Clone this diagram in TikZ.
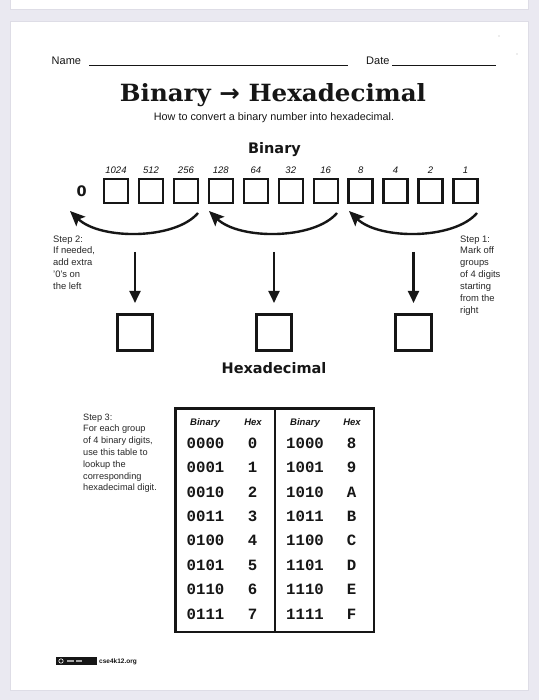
\documentclass[tikz,border=0pt]{standalone}
\usepackage{fontspec}
\setmainfont{Liberation Sans}
\setmonofont{Liberation Mono}
\newfontfamily\titlefont{DejaVu Serif}
\newfontfamily\headfont{DejaVu Sans}
\usetikzlibrary{arrows.meta}
\definecolor{bggray}{RGB}{234,233,241}
\definecolor{cardedge}{RGB}{222,221,230}
\definecolor{ink}{RGB}{22,22,22}
\definecolor{steptxt}{RGB}{40,40,40}
\begin{document}
\begin{tikzpicture}[x=1pt,y=-1pt,
  bitbox/.style={draw=ink, line width=2.4pt, minimum size=24pt, inner sep=0pt},
  hexbox/.style={draw=ink, line width=2.6pt, minimum width=35.5pt, minimum height=36.5pt, inner sep=0pt},
  weight/.style={font=\fontsize{9.5}{11}\selectfont\itshape, anchor=base, inner sep=0pt, text=ink},
  steptext/.style={font=\fontsize{9.4}{11.9}\selectfont, align=left, anchor=base west, inner sep=0pt, text=steptxt},
  head/.style={font=\headfont\bfseries\fontsize{14.5}{16}\selectfont, anchor=base, inner sep=0pt, text=ink},
  digit/.style={font=\ttfamily\bfseries\fontsize{15.7}{18}\selectfont, inner sep=0pt, text=ink},
  colhead/.style={font=\bfseries\itshape\fontsize{9.5}{11}\selectfont, anchor=base, inner sep=0pt, text=ink},
  plain/.style={anchor=base west, inner sep=0pt, text=ink},
  arc/.style={draw=ink, line width=2.4pt, -{Stealth[length=15pt,width=13pt,inset=3pt]}},
  down/.style={draw=ink, line width=2.2pt, -{Triangle[length=12pt,width=11pt]}},
  rule/.style={draw=ink, line width=0.8pt}
]
\useasboundingbox (0,0) rectangle (539,700);
% screenshot background and cards
\fill[bggray] (0,0) rectangle (539,700);
\filldraw[fill=white, draw=cardedge, line width=1pt] (10,-5) rectangle (528,10);
\filldraw[fill=white, draw=cardedge, line width=1pt] (10,22) rectangle (528,690);
\fill[gray!60] (499,36) circle (0.6);
\fill[gray!60] (517,54) circle (0.6);

% name and date
\node[plain, font=\fontsize{11}{13}\selectfont] (name) at (51.5,65) {Name};
\coordinate (nl1) at (89,65.5); \coordinate (nl2) at (348,65.5);
\draw[rule] (nl1) -- (nl2);
\node[plain, font=\fontsize{11}{13}\selectfont] (date) at (366,65) {Date};
\coordinate (dl1) at (392,65.5); \coordinate (dl2) at (496,65.5);
\draw[rule] (dl1) -- (dl2);

% title
\node[anchor=base, inner sep=0pt, text=ink] (title) at (273,102)
  {\resizebox{306pt}{18pt}{\titlefont\bfseries Binary {\headfont\bfseries →} Hexadecimal}};
\node[anchor=base, inner sep=0pt, text=ink, font=\fontsize{10.8}{13}\selectfont] (sub) at (274,121)
  {How to convert a binary number into hexadecimal.};

% binary row
\node[head] (binhead) at (274.5,154) {Binary};
\node[inner sep=0pt, text=ink, font=\headfont\bfseries\fontsize{14.5}{16}\selectfont] (zero) at (81.7,191.5) {0};
\foreach \w [count=\i from 0] in {1024,512,256,128,64,32,16,8,4,2,1}{
  \pgfmathsetmacro\xx{116+34.95*\i}
  \node[bitbox] (b\i) at (\xx,191) {};
  \node[weight] (w\i) at (\xx,173.5) {\w};
}

% grouping arcs
\coordinate (a1s) at (198,213); \coordinate (a1e) at (70,211);
\coordinate (a2s) at (337,213); \coordinate (a2e) at (209,211);
\coordinate (a3s) at (477,213); \coordinate (a3e) at (349,211);
\foreach \k in {1,2,3}{
  \draw[arc] (a\k s) .. controls ([shift={(-23,27)}]a\k s) and ([shift={(30,29)}]a\k e) .. (a\k e);
}

% step texts (base anchor = baseline of last line)
\node[steptext] (step2) at (53,289.6) {Step 2:\\If needed,\\add extra\\'0's on\\the left};
\node[steptext] (step1) at (460,313.4) {Step 1:\\Mark off\\groups\\of 4 digits\\starting\\from the\\right};

% hex boxes and down arrows
\node[hexbox] (h1) at (135,332.5) {};
\node[hexbox] (h2) at (274,332.5) {};
\node[hexbox] (h3) at (413.5,332.5) {};
\coordinate (d1) at (135,252); \coordinate (d2) at (274,252); \coordinate (d3) at (413.5,252);
\foreach \k in {1,2,3}{
  \draw[down] (d\k) -- ([yshift=10pt]h\k.north);
}
\node[head] (hexhead) at (274,373) {Hexadecimal};

% step 3
\node[steptext, font=\fontsize{9.2}{11.8}\selectfont] (step3) at (83,490.8)
  {Step 3:\\For each group\\of 4 binary digits,\\use this table to\\lookup the\\corresponding\\hexadecimal digit.};

% table
\node[draw=ink, line width=2.5pt, minimum width=198.5pt, minimum height=223.5pt, inner sep=0pt] (tbl) at (274.5,520) {};
\draw[draw=ink, line width=2pt] (tbl.north) -- (tbl.south);
\node[colhead] (ch1) at (205,425) {Binary};
\node[colhead] (ch2) at (253,425) {Hex};
\node[colhead] (ch3) at (305,425) {Binary};
\node[colhead] (ch4) at (352,425) {Hex};
\foreach \b/\h/\bb/\hh [count=\k from 0] in
  {0000/0/1000/8, 0001/1/1001/9, 0010/2/1010/A, 0011/3/1011/B,
   0100/4/1100/C, 0101/5/1101/D, 0110/6/1110/E, 0111/7/1111/F}{
  \pgfmathsetmacro\yy{443+24.45*\k}
  \node[digit] (lb\k) at (205.5,\yy) {\b};
  \node[digit] (lh\k) at (252.7,\yy) {\h};
  \node[digit] (rb\k) at (305,\yy) {\bb};
  \node[digit] (rh\k) at (351.7,\yy) {\hh};
}

% footer
\node[fill=ink, minimum width=41pt, minimum height=7.5pt, inner sep=0pt] (badge) at (76,661) {};
\draw[white, line width=0.6pt] (61,661) circle (2.2);
\fill[gray!70] (67,660.4) rectangle (74,661.6);
\fill[gray!70] (76,660.4) rectangle (82,661.6);
\node[inner sep=0pt, anchor=west, text=ink, font=\bfseries\fontsize{6.5}{8}\selectfont] (site) at (99,661.5) {cse4k12.org};
\end{tikzpicture}
\end{document}
